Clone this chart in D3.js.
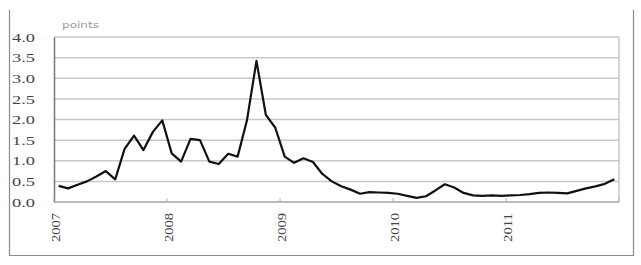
<!DOCTYPE html>
<html>
<head>
<meta charset="utf-8">
<script src="https://cdn.jsdelivr.net/npm/d3@7"></script>
<style>
  body { margin: 0; background: #fff; }
  svg { display: block; }
</style>
</head>
<body>
<script>
const years = ["2007", "2008", "2009", "2010", "2011"]
const yTicks = [0, 0.5, 1.0, 1.5, 2.0, 2.5, 3.0, 3.5, 4.0]
// monthly values, Jan 2007 .. Dec 2011
const values = [
    0.39, 0.33, 0.42, 0.50, 0.62, 0.75, 0.55, 1.29, 1.61, 1.26, 1.70, 1.98,
    1.18, 0.98, 1.53, 1.50, 0.98, 0.92, 1.17, 1.10, 1.99, 3.42, 2.11, 1.80,
    1.10, 0.95, 1.06, 0.97, 0.68, 0.50, 0.38, 0.30, 0.20, 0.24, 0.23, 0.22,
    0.20, 0.15, 0.10, 0.14, 0.28, 0.43, 0.35, 0.22, 0.16, 0.15, 0.16, 0.15,
    0.16, 0.17, 0.19, 0.22, 0.23, 0.22, 0.21, 0.27, 0.33, 0.38, 0.44, 0.55
]

const width = 641
const height = 265
const margin = { left: 54, right: 22, top: 37, bottom: 63 }
const serif = "'Liberation Serif', 'DejaVu Serif', serif"

const svg = d3.select("body")
    .append("svg")
    .attr("width", width)
    .attr("height", height)

// outer frame (top edge is cut off in the original)
svg.append("path")
    .attr("d", `M9.5,10 V255.5 H633.5 V10`)
    .attr("fill", "none")
    .attr("stroke", "#8a8a8a")
    .attr("stroke-width", 1.2)

const x = d3.scaleBand()
    .domain(d3.range(values.length))
    .range([margin.left, width - margin.right])
const y = d3.scaleLinear()
    .domain([0, 4])
    .range([height - margin.bottom, margin.top])

const chart = svg.append("g")

// grid
chart.selectAll(".grid")
    .data(yTicks)
    .join("line")
    .attr("class", "grid")
    .attr("x1", margin.left)
    .attr("x2", width - margin.right)
    .attr("y1", d => y(d))
    .attr("y2", d => y(d))
    .attr("stroke", "#c8c8c8")
    .attr("stroke-width", 1.5)

// right edge of plot area
chart.append("line")
    .attr("x1", width - margin.right)
    .attr("x2", width - margin.right)
    .attr("y1", y(4))
    .attr("y2", y(0))
    .attr("stroke", "#c8c8c8")
    .attr("stroke-width", 1.5)

// y axis
const yAxis = d3.axisLeft(y)
    .tickValues(yTicks)
    .tickSize(0)
    .tickPadding(19)
    .tickFormat(d3.format(".1f"))
chart.append("g")
    .attr("transform", `translate(${margin.left},0)`)
    .call(yAxis)
    .call(g => g.select(".domain").attr("stroke", "#777").attr("stroke-width", 1.5))
    .call(g => g.selectAll("text")
        .style("font-family", serif)
        .style("font-size", "13px")
        .attr("textLength", 23)
        .attr("lengthAdjust", "spacingAndGlyphs")
        .attr("fill", "#444"))

// x axis: ticks at year boundaries, labels near January
const yearIdx = d3.range(0, values.length + 1, 12)
chart.append("line")
    .attr("x1", margin.left)
    .attr("x2", width - margin.right)
    .attr("y1", y(0))
    .attr("y2", y(0))
    .attr("stroke", "#b0b0b0")
    .attr("stroke-width", 1.5)
chart.selectAll(".xtick")
    .data(yearIdx)
    .join("line")
    .attr("class", "xtick")
    .attr("x1", d => d < values.length ? x(d) : width - margin.right)
    .attr("x2", d => d < values.length ? x(d) : width - margin.right)
    .attr("y1", y(0))
    .attr("y2", y(0) - 4)
    .attr("stroke", "#b0b0b0")

chart.selectAll(".xlabel")
    .data(years)
    .join("text")
    .attr("class", "xlabel")
    .attr("transform", (d, i) => `translate(${x(i * 12) + 6},${y(0) + 11}) rotate(-90)`)
    .attr("text-anchor", "end")
    .style("font-family", serif)
    .style("font-size", "11.5px")
    .attr("textLength", 29)
    .attr("lengthAdjust", "spacingAndGlyphs")
    .attr("fill", "#444")
    .text(d => d)

// unit label
svg.append("text")
    .attr("x", 62)
    .attr("y", 28)
    .style("font-family", "'DejaVu Sans', sans-serif")
    .style("font-size", "9px")
    .attr("textLength", 37)
    .attr("lengthAdjust", "spacingAndGlyphs")
    .attr("fill", "#999")
    .text("points")

const line = d3.line()
    .x((d, i) => x(i) + x.bandwidth() / 2)
    .y(d => y(d))

chart.append("path")
    .attr("d", line(values))
    .attr("fill", "none")
    .attr("stroke", "#111")
    .attr("stroke-width", 2.2)
    .attr("stroke-linejoin", "round")
</script>
</body>
</html>
